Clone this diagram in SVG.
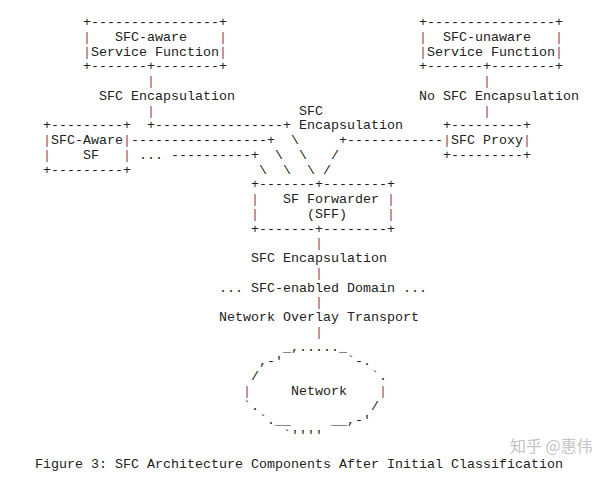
<svg xmlns="http://www.w3.org/2000/svg" width="600" height="482" viewBox="0 0 600 482">
<style>
text{font-family:"Liberation Mono","DejaVu Sans Mono",monospace;font-size:13.33px;fill:#222;white-space:pre}
.b{fill:#9a4a48}
.wm{font-family:"Noto Sans CJK SC",sans-serif;font-size:16px;fill:#c4c4c4}
</style>
<rect width="600" height="482" fill="#fff"/>
<g id="art" xml:space="preserve">
<text x="35" y="26">      +----------------+                        +----------------+</text>
<text x="35" y="40.75">      <tspan class="b">|</tspan>   SFC-aware    <tspan class="b">|</tspan>                        <tspan class="b">|</tspan>  SFC-unaware   <tspan class="b">|</tspan></text>
<text x="35" y="55.5">      <tspan class="b">|</tspan>Service Function<tspan class="b">|</tspan>                        <tspan class="b">|</tspan>Service Function<tspan class="b">|</tspan></text>
<text x="35" y="70.25">      +-------+--------+                        +-------+--------+</text>
<text x="35" y="85">              <tspan class="b">|</tspan>                                         <tspan class="b">|</tspan></text>
<text x="35" y="99.75">        SFC Encapsulation                       No SFC Encapsulation</text>
<text x="35" y="114.5">              <tspan class="b">|</tspan>                  SFC                    <tspan class="b">|</tspan></text>
<text x="35" y="129.25"> +---------+  +----------------+ Encapsulation     +---------+</text>
<text x="35" y="144"> <tspan class="b">|</tspan>SFC-Aware<tspan class="b">|</tspan>-----------------+  \     +------------<tspan class="b">|</tspan>SFC Proxy<tspan class="b">|</tspan></text>
<text x="35" y="158.75"> <tspan class="b">|</tspan>    SF   <tspan class="b">|</tspan> ... ----------+  \  \   /             +---------+</text>
<text x="35" y="173.5"> +---------+                \  \  \ /</text>
<text x="35" y="188.25">                           +-------+--------+</text>
<text x="35" y="203">                           <tspan class="b">|</tspan>   SF Forwarder <tspan class="b">|</tspan></text>
<text x="35" y="217.75">                           <tspan class="b">|</tspan>      (SFF)     <tspan class="b">|</tspan></text>
<text x="35" y="232.5">                           +-------+--------+</text>
<text x="35" y="247.25">                                   <tspan class="b">|</tspan></text>
<text x="35" y="262">                           SFC Encapsulation</text>
<text x="35" y="276.75">                                   <tspan class="b">|</tspan></text>
<text x="35" y="291.5">                       ... SFC-enabled Domain ...</text>
<text x="35" y="306.25">                                   <tspan class="b">|</tspan></text>
<text x="35" y="321">                       Network Overlay Transport</text>
<text x="35" y="335.75">                                   <tspan class="b">|</tspan></text>
<text x="35" y="350.5">                               _,....._</text>
<text x="35" y="365.25">                            ,-'        `-.</text>
<text x="35" y="380">                           /              `.</text>
<text x="35" y="394.75">                          <tspan class="b">|</tspan>     Network    <tspan class="b">|</tspan></text>
<text x="35" y="409.5">                          `.              /</text>
<text x="35" y="424.25">                            `.__     __,-'</text>
<text x="35" y="439">                               `''''</text>
<text x="35" y="468">Figure 3: SFC Architecture Components After Initial Classification</text>
</g>
<text class="wm" x="510" y="452">知乎 @惠伟</text>
</svg>
